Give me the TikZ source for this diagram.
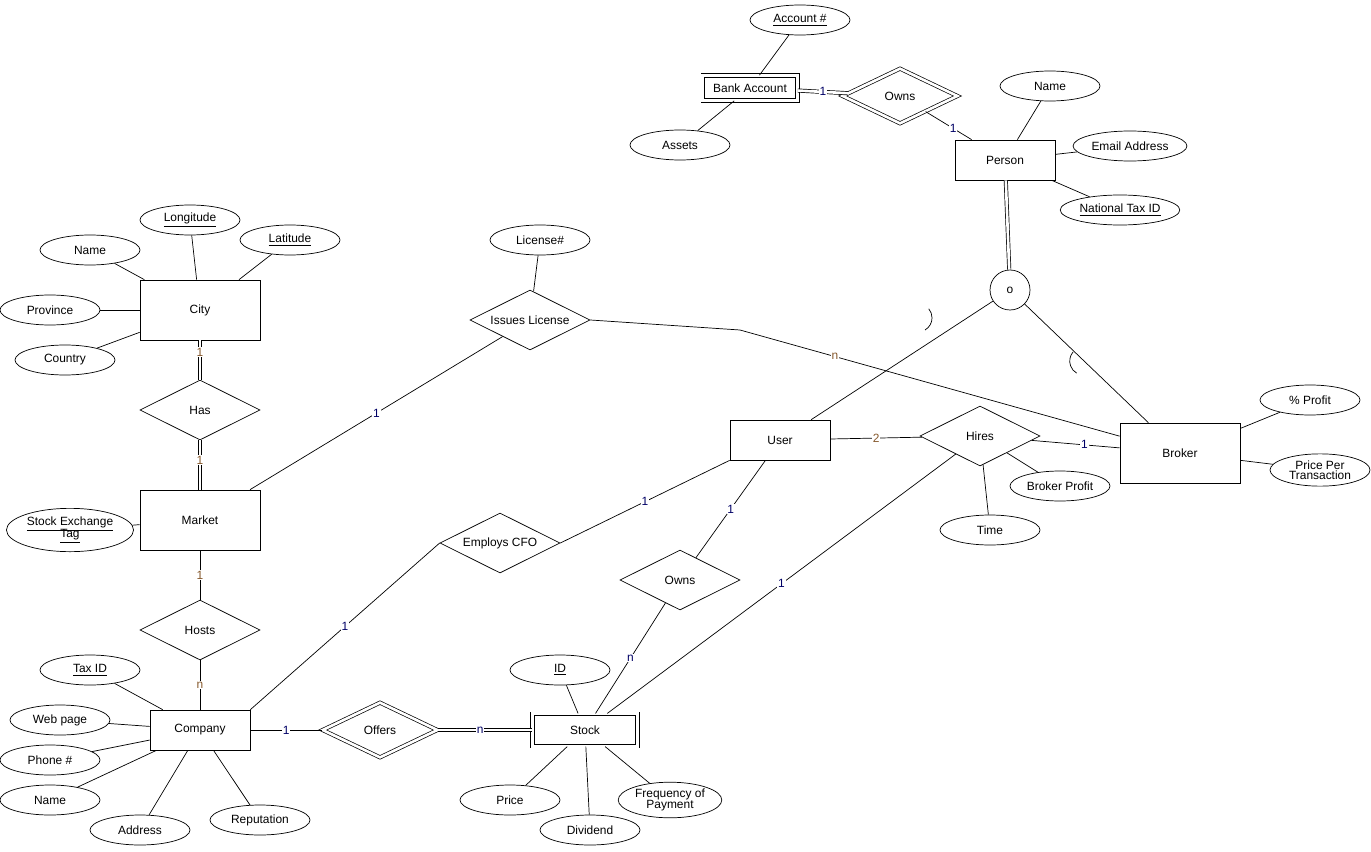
\documentclass[tikz,border=0pt]{standalone}
\usepackage{fontspec}
\setmainfont{Liberation Sans}
\usetikzlibrary{shapes.geometric}
\begin{document}
\begin{tikzpicture}[x=0.02cm,y=-0.02cm,font=\fontsize{6.8}{8}\selectfont,
 ent/.style={draw,rectangle,minimum width=2cm,minimum height=0.8cm,inner sep=1pt},
 went/.style={draw,double,double distance=1.5pt,rectangle,inner sep=1pt},
 att/.style={draw,ellipse,minimum width=2cm,minimum height=0.6cm,inner sep=1pt,align=center},
 rel/.style={draw,diamond,aspect=2,minimum width=2.4cm,minimum height=1.2cm,inner sep=0pt},
 wrel/.style={rel,double,double distance=1.5pt},
 dl/.style={double,double distance=1.5pt},
 lb/.style={fill=white,inner sep=0.5pt,text=blue!40!black},
 lbn/.style={fill=white,inner sep=0.5pt,text=brown!70!black}]
\useasboundingbox (0,0) rectangle (1371,851);
\node[att] (acc) at (800,20) {\underline{Account \#}};
\node[went,minimum width=1.9cm,minimum height=0.5cm] (bank) at (750,88) {Bank Account};
\node[wrel,minimum width=2.3cm,minimum height=1.1cm] (owns1) at (900,96) {Owns};
\node[att] (assets) at (680,145) {Assets};
\node[ent] (person) at (1005,160) {Person};
\node[att] (pname) at (1050,86) {Name};
\node[att] (email) at (1130,146) {Email Address};
\node[att] (ntax) at (1120,210) {\underline{National Tax ID}};
\node[draw,circle,minimum size=0.8cm,inner sep=0pt] (o) at (1010,290) {o};
\node[ent,minimum width=2.4cm,minimum height=1.2cm] (city) at (200,310) {City};
\node[att] (cname) at (90,250) {Name};
\node[att] (lon) at (190,220) {\underline{Longitude}};
\node[att] (lat) at (290,240) {\underline{Latitude}};
\node[att] (prov) at (50,310) {Province};
\node[att] (country) at (65,360) {Country};
\node[rel] (has) at (200,410) {Has};
\node[ent,minimum width=2.4cm,minimum height=1.2cm] (market) at (200,520) {Market};
\node[att] (setag) at (70,530) {\underline{Stock Exchange}\\[-2pt]\underline{Tag}};
\node[rel] (hosts) at (200,630) {Hosts};
\node[ent] (company) at (200,730) {Company};
\node[att] (taxid) at (90,670) {\underline{Tax ID}};
\node[att] (web) at (60,720) {Web page};
\node[att] (phone) at (50,760) {Phone \#};
\node[att] (cpname) at (50,800) {Name};
\node[att] (addr) at (140,830) {Address};
\node[att] (rep) at (260,820) {Reputation};
\node[wrel,minimum width=2.3cm,minimum height=1.1cm] (offers) at (380,730) {Offers};
\node[went,minimum width=2.1cm,minimum height=0.65cm] (stock) at (585,730) {Stock};
\node[att] (sid) at (560,670) {\underline{ID}};
\node[att] (price) at (510,800) {Price};
\node[att] (div) at (590,830) {Dividend};
\node[att] (freq) at (670,800) {Frequency of\\[-2pt]Payment};
\node[rel] (owns2) at (680,580) {Owns};
\node[ent] (user) at (780,440) {User};
\node[rel] (cfo) at (500,543) {Employs CFO};
\node[rel] (issue) at (530,320) {Issues License};
\node[att] (lic) at (540,240) {License\#};
\node[rel] (hires) at (980,436) {Hires};
\node[att] (bprof) at (1060,486) {Broker Profit};
\node[att] (time) at (990,530) {Time};
\node[ent,minimum width=2.4cm,minimum height=1.2cm] (broker) at (1180,453) {Broker};
\node[att] (pprof) at (1310,400) {\% Profit};
\node[att] (ppt) at (1320,470) {Price Per\\[-2pt]Transaction};

\draw (acc)--(bank); \draw (assets)--(bank);
\draw[dl] (bank)--(owns1) node[midway,lb]{1};
\draw (owns1)--(person) node[pos=0.6,lb]{1};
\draw (pname)--(person); \draw (email)--(person); \draw (ntax)--(person);
\draw[dl] (person)--(o);
\draw (o)--(user); \draw (o)--(broker);
\draw (925,330) arc (-60:40:8pt);
\draw (1073,352) arc (140:240:8pt) ;
\draw (issue.east)--(740,330)--(broker) node[pos=0.25,lbn]{n};
\draw (issue)--(market) node[midway,lb]{1};
\draw (lic)--(issue);
\draw (cname)--(city); \draw (lon)--(city); \draw (lat)--(city); \draw (prov)--(city); \draw (country)--(city);
\draw[dl] (city)--(has) node[pos=0.3,lbn]{1};
\draw[dl] (has)--(market) node[pos=0.4,lbn]{1};
\draw (setag)--(market);
\draw (market)--(hosts) node[midway,lbn]{1};
\draw (hosts)--(company) node[midway,lbn]{n};
\draw (taxid)--(company); \draw (web)--(company); \draw (phone)--(company);
\draw (cpname)--(company); \draw (addr)--(company); \draw (rep)--(company);
\draw (company.north east)--(cfo.west) node[midway,lb]{1};
\draw (cfo.east)--(user.south west) node[midway,lb]{1};
\draw (user)--(owns2) node[midway,lb]{1};
\draw (owns2)--(stock) node[midway,lb]{n};
\draw (stock)--(hires) node[midway,lb]{1};
\draw (user)--(hires) node[midway,lbn]{2};
\draw (hires)--(broker) node[pos=0.6,lb]{1};
\draw (bprof)--(hires); \draw (time)--(hires);
\draw (pprof)--(broker); \draw (ppt)--(broker);
\draw (company)--(offers) node[pos=0.5,lb]{1};
\draw[dl] (offers)--(stock) node[pos=0.45,lb]{n};
\draw (sid)--(stock); \draw (price)--(stock); \draw (div)--(stock); \draw (freq)--(stock);
\end{tikzpicture}
\end{document}
